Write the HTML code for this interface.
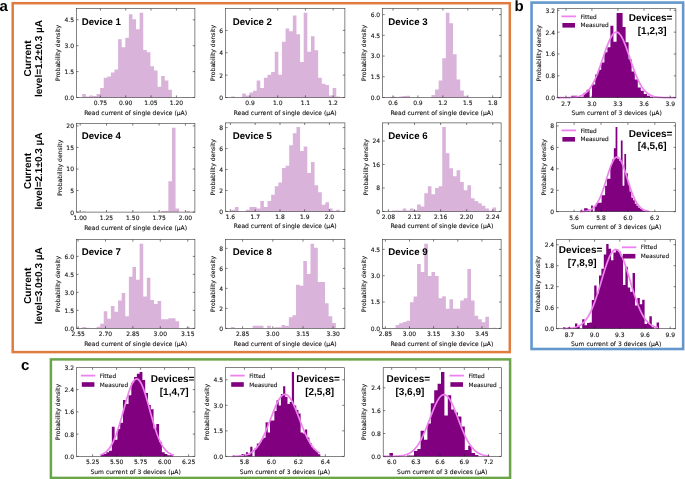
<!DOCTYPE html>
<html lang="en"><head><meta charset="utf-8"><title>Device current histograms</title>
<style>
html,body{margin:0;padding:0;background:#fff;}
body{width:685px;height:479px;overflow:hidden;}
svg{display:block;}
text.t,text.l{stroke:#111;stroke-width:0.1px;}
.t{font-family:"DejaVu Sans","Liberation Sans",sans-serif;font-size:6.0px;fill:#111;}
.l{font-family:"DejaVu Sans","Liberation Sans",sans-serif;font-size:6.05px;fill:#111;}
.b{font-family:"Liberation Sans",Arial,sans-serif;font-weight:bold;font-size:10px;fill:#000;}
.p{font-family:"Liberation Sans",Arial,sans-serif;font-weight:bold;font-size:15px;fill:#000;}
</style></head><body>
<svg width="685" height="479" viewBox="0 0 685 479" text-rendering="geometricPrecision">
<rect x="0" y="0" width="685" height="479" fill="#fff"/>
<rect x="12.7" y="3.2" width="497.1" height="348.9" fill="none" stroke="#e07c3d" stroke-width="2.5"/>
<rect x="531.55" y="2.6" width="151.6" height="346.4" fill="none" stroke="#6498cd" stroke-width="2.6"/>
<rect x="50.9" y="359.4" width="459.2" height="118.5" fill="none" stroke="#6ba54a" stroke-width="2.5"/>
<text x="-0.4" y="10.9" class="p">a</text>
<text x="514.4" y="10.8" class="p">b</text>
<text x="21.0" y="369.7" class="p">c</text>
<text transform="translate(31 58.5) rotate(-90)" class="b" text-anchor="middle">Current</text>
<text transform="translate(42.2 58.5) rotate(-90)" class="b" text-anchor="middle">level=1.2±0.3 µA</text>
<path d="M82.19 97.5v-3.62h3.59v3.62zM85.78 97.5v-1h3.59v1zM89.37 97.5v-2.01h3.59v2.01zM92.96 97.5v-1.41h3.59v1.41zM96.55 97.5v-3.62h3.59v3.62zM100.14 97.5v-9.44h3.59v9.44zM103.73 97.5v-19.68h3.59v19.68zM107.32 97.5v-21.09h3.59v21.09zM110.91 97.5v-25.11h3.59v25.11zM114.5 97.5v-28.12h3.59v28.12zM118.1 97.5v-58.25h3.59v58.25zM121.69 97.5v-50.21h3.59v50.21zM125.28 97.5v-59.65h3.59v59.65zM128.87 97.5v-83.36h3.59v83.36zM132.46 97.5v-78.33h3.59v78.33zM136.05 97.5v-68.29h3.59v68.29zM139.64 97.5v-84.76h3.59v84.76zM143.23 97.5v-47.6h3.59v47.6zM146.82 97.5v-45.19h3.59v45.19zM150.41 97.5v-31.13h3.59v31.13zM154 97.5v-27.12h3.59v27.12zM157.6 97.5v-10.65h3.59v10.65zM161.19 97.5v-21.49h3.59v21.49zM164.78 97.5v-17.07h3.59v17.07zM168.37 97.5v-7.63h3.59v7.63zM182.73 97.5v-0.6h3.59v0.6zM186.32 97.5v-0.6h3.59v0.6z" fill="#d9b3d9"/>
<path d="M100.4 97.5v-2.1M100.4 8.5v2.1M125.7 97.5v-2.1M125.7 8.5v2.1M151 97.5v-2.1M151 8.5v2.1M176.4 97.5v-2.1M176.4 8.5v2.1M76.4 97.5h2.1M194.9 97.5h-2.1M76.4 71.6h2.1M194.9 71.6h-2.1M76.4 45.7h2.1M194.9 45.7h-2.1M76.4 19.8h2.1M194.9 19.8h-2.1" stroke="#111" stroke-width="0.55" fill="none"/>
<rect x="76.4" y="8.5" width="118.5" height="89" fill="none" stroke="#333" stroke-width="0.6"/>
<text x="100.4" y="105.45" class="t" text-anchor="middle">0.75</text>
<text x="125.7" y="105.45" class="t" text-anchor="middle">0.90</text>
<text x="151" y="105.45" class="t" text-anchor="middle">1.05</text>
<text x="176.4" y="105.45" class="t" text-anchor="middle">1.20</text>
<text x="74" y="99.9" class="t" text-anchor="end">0.0</text>
<text x="74" y="74" class="t" text-anchor="end">1.5</text>
<text x="74" y="48.1" class="t" text-anchor="end">3.0</text>
<text x="74" y="22.2" class="t" text-anchor="end">4.5</text>
<text x="135.65" y="114.6" class="l" text-anchor="middle">Read current of single device (µA)</text>
<text transform="translate(59.5 53) rotate(-90)" class="l" text-anchor="middle">Probability density</text>
<text x="81.7" y="25" class="b" style="font-size:9.7px">Device 1</text>
<path d="M231.33 97.5v-1h3.62v1zM242.18 97.5v-4.02h3.62v4.02zM245.8 97.5v-2.01h3.62v2.01zM249.42 97.5v-5.02h3.62v5.02zM253.04 97.5v-6.63h3.62v6.63zM256.65 97.5v-17.07h3.62v17.07zM260.27 97.5v-9.44h3.62v9.44zM263.89 97.5v-19.68h3.62v19.68zM267.51 97.5v-22.7h3.62v22.7zM271.13 97.5v-25.51h3.62v25.51zM274.75 97.5v-45.8h3.62v45.8zM278.36 97.5v-22.7h3.62v22.7zM281.98 97.5v-55.84h3.62v55.84zM285.6 97.5v-68.89h3.62v68.89zM289.22 97.5v-66.28h3.62v66.28zM292.84 97.5v-81.95h3.62v81.95zM296.45 97.5v-63.27h3.62v63.27zM300.07 97.5v-35.55h3.62v35.55zM303.69 97.5v-84.76h3.62v84.76zM307.31 97.5v-45.8h3.62v45.8zM310.93 97.5v-61.26h3.62v61.26zM314.55 97.5v-47.2h3.62v47.2zM318.16 97.5v-19.68h3.62v19.68zM321.78 97.5v-13.66h3.62v13.66zM325.4 97.5v-12.45h3.62v12.45zM329.02 97.5v-2.01h3.62v2.01zM332.64 97.5v-9.44h3.62v9.44zM336.25 97.5v-1h3.62v1z" fill="#d9b3d9"/>
<path d="M250 97.5v-2.1M250 8.5v2.1M277.7 97.5v-2.1M277.7 8.5v2.1M305.4 97.5v-2.1M305.4 8.5v2.1M333.1 97.5v-2.1M333.1 8.5v2.1M225.5 97.5h2.1M344.9 97.5h-2.1M225.5 75.13h2.1M344.9 75.13h-2.1M225.5 52.76h2.1M344.9 52.76h-2.1M225.5 30.39h2.1M344.9 30.39h-2.1" stroke="#111" stroke-width="0.55" fill="none"/>
<rect x="225.5" y="8.5" width="119.4" height="89" fill="none" stroke="#333" stroke-width="0.6"/>
<text x="250" y="105.45" class="t" text-anchor="middle">0.9</text>
<text x="277.7" y="105.45" class="t" text-anchor="middle">1.0</text>
<text x="305.4" y="105.45" class="t" text-anchor="middle">1.1</text>
<text x="333.1" y="105.45" class="t" text-anchor="middle">1.2</text>
<text x="223.1" y="99.9" class="t" text-anchor="end">0</text>
<text x="223.1" y="77.53" class="t" text-anchor="end">2</text>
<text x="223.1" y="55.16" class="t" text-anchor="end">4</text>
<text x="223.1" y="32.79" class="t" text-anchor="end">6</text>
<text x="285.2" y="114.6" class="l" text-anchor="middle">Read current of single device (µA)</text>
<text transform="translate(215.1 53) rotate(-90)" class="l" text-anchor="middle">Probability density</text>
<text x="232.7" y="25" class="b" style="font-size:9.7px">Device 2</text>
<path d="M388.39 97.5v-0.6h3.59v0.6zM391.98 97.5v-1h3.59v1zM395.57 97.5v-0.6h3.59v0.6zM399.16 97.5v-1h3.59v1zM402.75 97.5v-1.41h3.59v1.41zM406.34 97.5v-1.81h3.59v1.81zM431.48 97.5v-2.61h3.59v2.61zM435.07 97.5v-8.03h3.59v8.03zM438.66 97.5v-17.07h3.59v17.07zM442.25 97.5v-39.17h3.59v39.17zM445.84 97.5v-84.76h3.59v84.76zM449.43 97.5v-74.32h3.59v74.32zM453.02 97.5v-43.18h3.59v43.18zM456.61 97.5v-18.08h3.59v18.08zM460.2 97.5v-7.03h3.59v7.03zM463.8 97.5v-1.81h3.59v1.81zM492.52 97.5v-0.4h3.59v0.4z" fill="#d9b3d9"/>
<path d="M393 97.5v-2.1M393 8.5v2.1M417.9 97.5v-2.1M417.9 8.5v2.1M442.9 97.5v-2.1M442.9 8.5v2.1M467.8 97.5v-2.1M467.8 8.5v2.1M492.7 97.5v-2.1M492.7 8.5v2.1M382.6 97.5h2.1M501.1 97.5h-2.1M382.6 76.78h2.1M501.1 76.78h-2.1M382.6 56.06h2.1M501.1 56.06h-2.1M382.6 35.34h2.1M501.1 35.34h-2.1M382.6 14.62h2.1M501.1 14.62h-2.1" stroke="#111" stroke-width="0.55" fill="none"/>
<rect x="382.6" y="8.5" width="118.5" height="89" fill="none" stroke="#333" stroke-width="0.6"/>
<text x="393" y="105.45" class="t" text-anchor="middle">0.6</text>
<text x="417.9" y="105.45" class="t" text-anchor="middle">0.9</text>
<text x="442.9" y="105.45" class="t" text-anchor="middle">1.2</text>
<text x="467.8" y="105.45" class="t" text-anchor="middle">1.5</text>
<text x="492.7" y="105.45" class="t" text-anchor="middle">1.8</text>
<text x="380.2" y="99.9" class="t" text-anchor="end">0.0</text>
<text x="380.2" y="79.18" class="t" text-anchor="end">1.5</text>
<text x="380.2" y="58.46" class="t" text-anchor="end">3.0</text>
<text x="380.2" y="37.74" class="t" text-anchor="end">4.5</text>
<text x="380.2" y="17.02" class="t" text-anchor="end">6.0</text>
<text x="441.85" y="114.6" class="l" text-anchor="middle">Read current of single device (µA)</text>
<text transform="translate(365.7 53) rotate(-90)" class="l" text-anchor="middle">Probability density</text>
<text x="388.3" y="25" class="b" style="font-size:9.7px">Device 3</text>
<text transform="translate(31 171) rotate(-90)" class="b" text-anchor="middle">Current</text>
<text transform="translate(42.2 171) rotate(-90)" class="b" text-anchor="middle">level=2.1±0.3 µA</text>
<path d="M82.19 212.1v-0.6h3.59v0.6zM161.19 212.1v-1h3.59v1zM164.78 212.1v-1h3.59v1zM168.37 212.1v-30.74h3.59v30.74zM171.96 212.1v-84.38h3.59v84.38zM175.55 212.1v-3.62h3.59v3.62zM186.32 212.1v-1h3.59v1z" fill="#d9b3d9"/>
<path d="M80.2 212.1v-2.1M80.2 123.5v2.1M106.5 212.1v-2.1M106.5 123.5v2.1M132.8 212.1v-2.1M132.8 123.5v2.1M159.1 212.1v-2.1M159.1 123.5v2.1M185.4 212.1v-2.1M185.4 123.5v2.1M76.4 212.1h2.1M194.9 212.1h-2.1M76.4 190.55h2.1M194.9 190.55h-2.1M76.4 169h2.1M194.9 169h-2.1M76.4 147.45h2.1M194.9 147.45h-2.1M76.4 125.9h2.1M194.9 125.9h-2.1" stroke="#111" stroke-width="0.55" fill="none"/>
<rect x="76.4" y="123.5" width="118.5" height="88.6" fill="none" stroke="#333" stroke-width="0.6"/>
<text x="80.2" y="220.05" class="t" text-anchor="middle">1.00</text>
<text x="106.5" y="220.05" class="t" text-anchor="middle">1.25</text>
<text x="132.8" y="220.05" class="t" text-anchor="middle">1.50</text>
<text x="159.1" y="220.05" class="t" text-anchor="middle">1.75</text>
<text x="185.4" y="220.05" class="t" text-anchor="middle">2.00</text>
<text x="74" y="214.5" class="t" text-anchor="end">0</text>
<text x="74" y="192.95" class="t" text-anchor="end">5</text>
<text x="74" y="171.4" class="t" text-anchor="end">10</text>
<text x="74" y="149.85" class="t" text-anchor="end">15</text>
<text x="74" y="128.3" class="t" text-anchor="end">20</text>
<text x="135.65" y="229.6" class="l" text-anchor="middle">Read current of single device (µA)</text>
<text transform="translate(62 167.8) rotate(-90)" class="l" text-anchor="middle">Probability density</text>
<text x="81.7" y="139.4" class="b" style="font-size:9.7px">Device 4</text>
<path d="M231.33 211.4v-1.61h3.62v1.61zM234.95 211.4v-4.44h3.62v4.44zM245.8 211.4v-1.61h3.62v1.61zM249.42 211.4v-4.44h3.62v4.44zM253.04 211.4v-4.44h3.62v4.44zM256.65 211.4v-3.02h3.62v3.02zM260.27 211.4v-10.49h3.62v10.49zM263.89 211.4v-4.44h3.62v4.44zM267.51 211.4v-10.49h3.62v10.49zM271.13 211.4v-16.53h3.62v16.53zM274.75 211.4v-25.21h3.62v25.21zM278.36 211.4v-28.83h3.62v28.83zM281.98 211.4v-43.35h3.62v43.35zM285.6 211.4v-45.77h3.62v45.77zM289.22 211.4v-66.14h3.62v66.14zM292.84 211.4v-78.24h3.62v78.24zM296.45 211.4v-84.29h3.62v84.29zM300.07 211.4v-60.49h3.62v60.49zM303.69 211.4v-64.93h3.62v64.93zM307.31 211.4v-38.31h3.62v38.31zM310.93 211.4v-49.4h3.62v49.4zM314.55 211.4v-26.21h3.62v26.21zM318.16 211.4v-19.16h3.62v19.16zM321.78 211.4v-6.65h3.62v6.65zM325.4 211.4v-9.07h3.62v9.07zM329.02 211.4v-3.02h3.62v3.02zM332.64 211.4v-0.6h3.62v0.6zM336.25 211.4v-1.61h3.62v1.61z" fill="#d9b3d9"/>
<path d="M230.4 211.4v-2.1M230.4 122.9v2.1M255.2 211.4v-2.1M255.2 122.9v2.1M280 211.4v-2.1M280 122.9v2.1M304.7 211.4v-2.1M304.7 122.9v2.1M329.4 211.4v-2.1M329.4 122.9v2.1M225.5 211.4h2.1M344.9 211.4h-2.1M225.5 190.45h2.1M344.9 190.45h-2.1M225.5 169.5h2.1M344.9 169.5h-2.1M225.5 148.55h2.1M344.9 148.55h-2.1M225.5 127.6h2.1M344.9 127.6h-2.1" stroke="#111" stroke-width="0.55" fill="none"/>
<rect x="225.5" y="122.9" width="119.4" height="88.5" fill="none" stroke="#333" stroke-width="0.6"/>
<text x="230.4" y="219.35" class="t" text-anchor="middle">1.6</text>
<text x="255.2" y="219.35" class="t" text-anchor="middle">1.7</text>
<text x="280" y="219.35" class="t" text-anchor="middle">1.8</text>
<text x="304.7" y="219.35" class="t" text-anchor="middle">1.9</text>
<text x="329.4" y="219.35" class="t" text-anchor="middle">2.0</text>
<text x="223.1" y="213.8" class="t" text-anchor="end">0</text>
<text x="223.1" y="192.85" class="t" text-anchor="end">2</text>
<text x="223.1" y="171.9" class="t" text-anchor="end">4</text>
<text x="223.1" y="150.95" class="t" text-anchor="end">6</text>
<text x="223.1" y="130" class="t" text-anchor="end">8</text>
<text x="285.2" y="228.3" class="l" text-anchor="middle">Read current of single device (µA)</text>
<text transform="translate(215.1 167.15) rotate(-90)" class="l" text-anchor="middle">Probability density</text>
<text x="232.7" y="139.4" class="b" style="font-size:9.7px">Device 5</text>
<path d="M391.98 211.4v-1h3.59v1zM395.57 211.4v-1h3.59v1zM399.16 211.4v-1h3.59v1zM402.75 211.4v-3.01h3.59v3.01zM406.34 211.4v-1h3.59v1zM409.93 211.4v-3.01h3.59v3.01zM413.52 211.4v-1.4h3.59v1.4zM417.11 211.4v-7.02h3.59v7.02zM420.7 211.4v-5.02h3.59v5.02zM424.3 211.4v-18.06h3.59v18.06zM427.89 211.4v-25.09h3.59v25.09zM431.48 211.4v-17.06h3.59v17.06zM435.07 211.4v-23.48h3.59v23.48zM438.66 211.4v-25.09h3.59v25.09zM442.25 211.4v-84.29h3.59v84.29zM445.84 211.4v-58.2h3.59v58.2zM449.43 211.4v-43.15h3.59v43.15zM453.02 211.4v-35.12h3.59v35.12zM456.61 211.4v-41.14h3.59v41.14zM460.2 211.4v-29.5h3.59v29.5zM463.8 211.4v-21.07h3.59v21.07zM467.39 211.4v-26.09h3.59v26.09zM470.98 211.4v-13.04h3.59v13.04zM474.57 211.4v-10.44h3.59v10.44zM478.16 211.4v-8.03h3.59v8.03zM481.75 211.4v-5.62h3.59v5.62zM485.34 211.4v-3.01h3.59v3.01zM488.93 211.4v-1h3.59v1zM492.52 211.4v-4.01h3.59v4.01z" fill="#d9b3d9"/>
<path d="M388.4 211.4v-2.1M388.4 122.9v2.1M414.5 211.4v-2.1M414.5 122.9v2.1M440.6 211.4v-2.1M440.6 122.9v2.1M466.7 211.4v-2.1M466.7 122.9v2.1M492.8 211.4v-2.1M492.8 122.9v2.1M382.6 211.4h2.1M501.1 211.4h-2.1M382.6 187.93h2.1M501.1 187.93h-2.1M382.6 164.46h2.1M501.1 164.46h-2.1M382.6 140.99h2.1M501.1 140.99h-2.1" stroke="#111" stroke-width="0.55" fill="none"/>
<rect x="382.6" y="122.9" width="118.5" height="88.5" fill="none" stroke="#333" stroke-width="0.6"/>
<text x="388.4" y="219.35" class="t" text-anchor="middle">2.08</text>
<text x="414.5" y="219.35" class="t" text-anchor="middle">2.12</text>
<text x="440.6" y="219.35" class="t" text-anchor="middle">2.16</text>
<text x="466.7" y="219.35" class="t" text-anchor="middle">2.20</text>
<text x="492.8" y="219.35" class="t" text-anchor="middle">2.24</text>
<text x="380.2" y="213.8" class="t" text-anchor="end">0</text>
<text x="380.2" y="190.33" class="t" text-anchor="end">8</text>
<text x="380.2" y="166.86" class="t" text-anchor="end">16</text>
<text x="380.2" y="143.39" class="t" text-anchor="end">24</text>
<text x="441.85" y="228.3" class="l" text-anchor="middle">Read current of single device (µA)</text>
<text transform="translate(368.2 167.15) rotate(-90)" class="l" text-anchor="middle">Probability density</text>
<text x="388.3" y="139.4" class="b" style="font-size:9.7px">Device 6</text>
<text transform="translate(31 285.8) rotate(-90)" class="b" text-anchor="middle">Current</text>
<text transform="translate(42.2 285.8) rotate(-90)" class="b" text-anchor="middle">level=3.0±0.3 µA</text>
<path d="M82.19 328.35v-1.42h3.59v1.42zM85.78 328.35v-0.61h3.59v0.61zM96.55 328.35v-1.62h3.59v1.62zM100.14 328.35v-4.65h3.59v4.65zM103.73 328.35v-17.19h3.59v17.19zM107.32 328.35v-9.71h3.59v9.71zM110.91 328.35v-22.24h3.59v22.24zM114.5 328.35v-16.58h3.59v16.58zM118.1 328.35v-27.9h3.59v27.9zM121.69 328.35v-35.39h3.59v35.39zM125.28 328.35v-12.13h3.59v12.13zM128.87 328.35v-51.56h3.59v51.56zM132.46 328.35v-61.27h3.59v61.27zM136.05 328.35v-48.53h3.59v48.53zM139.64 328.35v-84.52h3.59v84.52zM143.23 328.35v-31.95h3.59v31.95zM146.82 328.35v-50.55h3.59v50.55zM150.41 328.35v-28.31h3.59v28.31zM154 328.35v-24.27h3.59v24.27zM157.6 328.35v-27.3h3.59v27.3zM161.19 328.35v-9.1h3.59v9.1zM164.78 328.35v-9.1h3.59v9.1zM168.37 328.35v-10.11h3.59v10.11zM171.96 328.35v-10.11h3.59v10.11zM175.55 328.35v-7.08h3.59v7.08zM179.14 328.35v-0.4h3.59v0.4zM186.32 328.35v-1.01h3.59v1.01z" fill="#d9b3d9"/>
<path d="M78.1 328.35v-2.1M78.1 239.6v2.1M105.5 328.35v-2.1M105.5 239.6v2.1M132.9 328.35v-2.1M132.9 239.6v2.1M160.3 328.35v-2.1M160.3 239.6v2.1M187.8 328.35v-2.1M187.8 239.6v2.1M76.4 328.35h2.1M194.9 328.35h-2.1M76.4 310.36h2.1M194.9 310.36h-2.1M76.4 292.37h2.1M194.9 292.37h-2.1M76.4 274.38h2.1M194.9 274.38h-2.1M76.4 256.39h2.1M194.9 256.39h-2.1" stroke="#111" stroke-width="0.55" fill="none"/>
<rect x="76.4" y="239.6" width="118.5" height="88.75" fill="none" stroke="#333" stroke-width="0.6"/>
<text x="78.1" y="336.3" class="t" text-anchor="middle">2.55</text>
<text x="105.5" y="336.3" class="t" text-anchor="middle">2.70</text>
<text x="132.9" y="336.3" class="t" text-anchor="middle">2.85</text>
<text x="160.3" y="336.3" class="t" text-anchor="middle">3.00</text>
<text x="187.8" y="336.3" class="t" text-anchor="middle">3.15</text>
<text x="74" y="330.75" class="t" text-anchor="end">0.0</text>
<text x="74" y="312.76" class="t" text-anchor="end">1.5</text>
<text x="74" y="294.77" class="t" text-anchor="end">3.0</text>
<text x="74" y="276.78" class="t" text-anchor="end">4.5</text>
<text x="74" y="258.79" class="t" text-anchor="end">6.0</text>
<text x="135.65" y="346.25" class="l" text-anchor="middle">Read current of single device (µA)</text>
<text transform="translate(59.5 283.98) rotate(-90)" class="l" text-anchor="middle">Probability density</text>
<text x="81.7" y="255.4" class="b" style="font-size:9.7px">Device 7</text>
<path d="M230.93 328.35v-1.41h3.62v1.41zM252.64 328.35v-2.62h3.62v2.62zM256.25 328.35v-2.62h3.62v2.62zM259.87 328.35v-2.62h3.62v2.62zM267.11 328.35v-2.62h3.62v2.62zM274.35 328.35v-1.01h3.62v1.01zM277.96 328.35v-1.01h3.62v1.01zM281.58 328.35v-3.42h3.62v3.42zM285.2 328.35v-2.41h3.62v2.41zM288.82 328.35v-11.07h3.62v11.07zM292.44 328.35v-13.08h3.62v13.08zM296.05 328.35v-43.67h3.62v43.67zM299.67 328.35v-42.66h3.62v42.66zM303.29 328.35v-67.42h3.62v67.42zM306.91 328.35v-54.34h3.62v54.34zM310.53 328.35v-84.52h3.62v84.52zM314.15 328.35v-80.5h3.62v80.5zM317.76 328.35v-46.29h3.62v46.29zM321.38 328.35v-46.29h3.62v46.29zM325 328.35v-25.16h3.62v25.16zM328.62 328.35v-12.07h3.62v12.07zM332.24 328.35v-5.43h3.62v5.43zM335.85 328.35v-0.4h3.62v0.4z" fill="#d9b3d9"/>
<path d="M242.6 328.35v-2.1M242.6 239.6v2.1M272.8 328.35v-2.1M272.8 239.6v2.1M303 328.35v-2.1M303 239.6v2.1M333.1 328.35v-2.1M333.1 239.6v2.1M225.5 328.35h2.1M344.9 328.35h-2.1M225.5 308.36h2.1M344.9 308.36h-2.1M225.5 288.37h2.1M344.9 288.37h-2.1M225.5 268.38h2.1M344.9 268.38h-2.1M225.5 248.39h2.1M344.9 248.39h-2.1" stroke="#111" stroke-width="0.55" fill="none"/>
<rect x="225.5" y="239.6" width="119.4" height="88.75" fill="none" stroke="#333" stroke-width="0.6"/>
<text x="242.6" y="336.3" class="t" text-anchor="middle">2.85</text>
<text x="272.8" y="336.3" class="t" text-anchor="middle">3.00</text>
<text x="303" y="336.3" class="t" text-anchor="middle">3.15</text>
<text x="333.1" y="336.3" class="t" text-anchor="middle">3.30</text>
<text x="223.1" y="330.75" class="t" text-anchor="end">0</text>
<text x="223.1" y="310.76" class="t" text-anchor="end">2</text>
<text x="223.1" y="290.77" class="t" text-anchor="end">4</text>
<text x="223.1" y="270.78" class="t" text-anchor="end">6</text>
<text x="223.1" y="250.79" class="t" text-anchor="end">8</text>
<text x="285.2" y="346.25" class="l" text-anchor="middle">Read current of single device (µA)</text>
<text transform="translate(215.1 283.98) rotate(-90)" class="l" text-anchor="middle">Probability density</text>
<text x="232.7" y="255.4" class="b" style="font-size:9.7px">Device 8</text>
<path d="M388.39 328.35v-0.4h3.59v0.4zM391.98 328.35v-0.4h3.59v0.4zM395.57 328.35v-3.42h3.59v3.42zM399.16 328.35v-5.03h3.59v5.03zM402.75 328.35v-6.44h3.59v6.44zM406.34 328.35v-7.65h3.59v7.65zM409.93 328.35v-26.16h3.59v26.16zM413.52 328.35v-31.8h3.59v31.8zM417.11 328.35v-64.4h3.59v64.4zM420.7 328.35v-56.35h3.59v56.35zM424.3 328.35v-84.52h3.59v84.52zM427.89 328.35v-52.32h3.59v52.32zM431.48 328.35v-56.35h3.59v56.35zM435.07 328.35v-52.32h3.59v52.32zM438.66 328.35v-30.19h3.59v30.19zM442.25 328.35v-32.2h3.59v32.2zM445.84 328.35v-19.72h3.59v19.72zM449.43 328.35v-28.98h3.59v28.98zM453.02 328.35v-19.72h3.59v19.72zM456.61 328.35v-19.72h3.59v19.72zM460.2 328.35v-27.77h3.59v27.77zM463.8 328.35v-30.19h3.59v30.19zM467.39 328.35v-59.37h3.59v59.37zM470.98 328.35v-27.77h3.59v27.77zM474.57 328.35v-12.68h3.59v12.68zM478.16 328.35v-9.06h3.59v9.06zM481.75 328.35v-6.04h3.59v6.04zM485.34 328.35v-11.67h3.59v11.67zM492.52 328.35v-0.6h3.59v0.6z" fill="#d9b3d9"/>
<path d="M385.4 328.35v-2.1M385.4 239.6v2.1M409.5 328.35v-2.1M409.5 239.6v2.1M433.6 328.35v-2.1M433.6 239.6v2.1M457.8 328.35v-2.1M457.8 239.6v2.1M481.9 328.35v-2.1M481.9 239.6v2.1M382.6 328.35h2.1M501.1 328.35h-2.1M382.6 302.03h2.1M501.1 302.03h-2.1M382.6 275.71h2.1M501.1 275.71h-2.1M382.6 249.39h2.1M501.1 249.39h-2.1" stroke="#111" stroke-width="0.55" fill="none"/>
<rect x="382.6" y="239.6" width="118.5" height="88.75" fill="none" stroke="#333" stroke-width="0.6"/>
<text x="385.4" y="336.3" class="t" text-anchor="middle">2.85</text>
<text x="409.5" y="336.3" class="t" text-anchor="middle">3.00</text>
<text x="433.6" y="336.3" class="t" text-anchor="middle">3.15</text>
<text x="457.8" y="336.3" class="t" text-anchor="middle">3.30</text>
<text x="481.9" y="336.3" class="t" text-anchor="middle">3.45</text>
<text x="380.2" y="330.75" class="t" text-anchor="end">0.0</text>
<text x="380.2" y="304.43" class="t" text-anchor="end">1.5</text>
<text x="380.2" y="278.11" class="t" text-anchor="end">3.0</text>
<text x="380.2" y="251.79" class="t" text-anchor="end">4.5</text>
<text x="441.85" y="346.25" class="l" text-anchor="middle">Read current of single device (µA)</text>
<text transform="translate(365.7 283.98) rotate(-90)" class="l" text-anchor="middle">Probability density</text>
<text x="388.3" y="255.4" class="b" style="font-size:9.7px">Device 9</text>
<path d="M556.6 97.7v-0.61H559.6V97.7zM571.2 97.7v-2.02H577.6V97.7zM577.6 97.7v-1.01H583.6V97.7zM583.6 97.7v-5.05H586.6V97.7zM586.6 97.7v-8.07H589.6V97.7zM592 97.7v-13.12H595.2V97.7zM595.2 97.7v-23.21H598.2V97.7zM598.2 97.7v-27.85H601.2V97.7zM601.2 97.7v-35.32H604.4V97.7zM604.4 97.7v-45.41H607.4V97.7zM607.4 97.7v-50.45H610.4V97.7zM610.4 97.7v-72.05H613.4V97.7zM613.4 97.7v-55.9H616.6V97.7zM616.6 97.7v-84.76H622.6V97.7zM622.6 97.7v-70.63H625.6V97.7zM625.6 97.7v-55.5H628.6V97.7zM628.6 97.7v-38.34H631.6V97.7zM631.6 97.7v-26.24H634.8V97.7zM634.8 97.7v-18.16H637.8V97.7zM637.8 97.7v-10.09H640.8V97.7zM640.8 97.7v-7.06H643.8V97.7zM643.8 97.7v-3.63H647V97.7zM647 97.7v-2.02H650V97.7zM650 97.7v-1.01H653V97.7z" fill="#800080"/>
<path d="M557.4 97.7 L558.4 97.69 L559.4 97.69 L560.4 97.69 L561.4 97.69 L562.4 97.68 L563.4 97.67 L564.4 97.66 L565.4 97.65 L566.4 97.64 L567.4 97.62 L568.4 97.59 L569.4 97.56 L570.4 97.52 L571.4 97.47 L572.4 97.4 L573.4 97.32 L574.4 97.22 L575.4 97.09 L576.4 96.94 L577.4 96.75 L578.4 96.52 L579.4 96.25 L580.4 95.92 L581.4 95.54 L582.4 95.08 L583.4 94.54 L584.4 93.91 L585.4 93.18 L586.4 92.35 L587.4 91.39 L588.4 90.31 L589.4 89.09 L590.4 87.72 L591.4 86.19 L592.4 84.51 L593.4 82.67 L594.4 80.66 L595.4 78.49 L596.4 76.17 L597.4 73.7 L598.4 71.09 L599.4 68.37 L600.4 65.55 L601.4 62.65 L602.4 59.7 L603.4 56.73 L604.4 53.78 L605.4 50.87 L606.4 48.05 L607.4 45.35 L608.4 42.82 L609.4 40.48 L610.4 38.37 L611.4 36.52 L612.4 34.97 L613.4 33.73 L614.4 32.84 L615.4 32.29 L616.4 32.11 L617.4 32.29 L618.4 32.84 L619.4 33.73 L620.4 34.97 L621.4 36.52 L622.4 38.37 L623.4 40.48 L624.4 42.82 L625.4 45.35 L626.4 48.05 L627.4 50.87 L628.4 53.78 L629.4 56.73 L630.4 59.7 L631.4 62.65 L632.4 65.55 L633.4 68.37 L634.4 71.09 L635.4 73.7 L636.4 76.17 L637.4 78.49 L638.4 80.66 L639.4 82.67 L640.4 84.51 L641.4 86.19 L642.4 87.72 L643.4 89.09 L644.4 90.31 L645.4 91.39 L646.4 92.35 L647.4 93.18 L648.4 93.91 L649.4 94.54 L650.4 95.08 L651.4 95.54 L652.4 95.92 L653.4 96.25 L654.4 96.52 L655.4 96.75 L656.4 96.94 L657.4 97.09 L658.4 97.22 L659.4 97.32 L660.4 97.4 L661.4 97.47 L662.4 97.52 L663.4 97.56 L664.4 97.59 L665.4 97.62 L666.4 97.64 L667.4 97.65 L668.4 97.66 L669.4 97.67 L670.4 97.68 L671.4 97.69 L672.4 97.69 L673.4 97.69 L674.4 97.69 L675.4 97.7" fill="none" stroke="#ee82ee" stroke-width="1.7" stroke-linejoin="round"/>
<path d="M566 97.7v-2.1M566 8.7v2.1M591.9 97.7v-2.1M591.9 8.7v2.1M617.9 97.7v-2.1M617.9 8.7v2.1M644 97.7v-2.1M644 8.7v2.1M670.2 97.7v-2.1M670.2 8.7v2.1M557.4 97.7h2.1M675.9 97.7h-2.1M557.4 75.85h2.1M675.9 75.85h-2.1M557.4 54h2.1M675.9 54h-2.1M557.4 32.15h2.1M675.9 32.15h-2.1M557.4 10.3h2.1M675.9 10.3h-2.1" stroke="#111" stroke-width="0.55" fill="none"/>
<rect x="557.4" y="8.7" width="118.5" height="89" fill="none" stroke="#333" stroke-width="0.6"/>
<text x="566" y="105.65" class="t" text-anchor="middle">2.7</text>
<text x="591.9" y="105.65" class="t" text-anchor="middle">3.0</text>
<text x="617.9" y="105.65" class="t" text-anchor="middle">3.3</text>
<text x="644" y="105.65" class="t" text-anchor="middle">3.6</text>
<text x="670.2" y="105.65" class="t" text-anchor="middle">3.9</text>
<text x="555" y="100.1" class="t" text-anchor="end">0.0</text>
<text x="555" y="78.25" class="t" text-anchor="end">0.8</text>
<text x="555" y="56.4" class="t" text-anchor="end">1.6</text>
<text x="555" y="34.55" class="t" text-anchor="end">2.4</text>
<text x="555" y="12.7" class="t" text-anchor="end">3.2</text>
<text x="616.65" y="114.8" class="l" text-anchor="middle">Sum current of 3 devices (µA)</text>
<text transform="translate(540.5 53.2) rotate(-90)" class="l" text-anchor="middle">Probability density</text>
<path d="M562.4 16.4h12.6" stroke="#ee82ee" stroke-width="1.8" stroke-linecap="square"/>
<text x="580.4" y="18.5" class="t" style="font-size:5.8px">Fitted</text>
<rect x="562.4" y="23" width="12.6" height="4.6" fill="#800080"/>
<text x="580.4" y="27.3" class="t" style="font-size:5.8px">Measured</text>
<text x="650.6" y="21.3" class="b" style="font-size:10px" text-anchor="middle">Devices=</text>
<text x="652.2" y="33.7" class="b" style="font-size:10px" text-anchor="middle">[1,2,3]</text>
<path d="M580.6 211.7v-1.91H582.35V211.7zM584.1 211.7v-3.41H585.85V211.7zM585.85 211.7v-3.41H587.6V211.7zM587.6 211.7v-2.31H589.35V211.7zM591.1 211.7v-6.23H592.85V211.7zM594.6 211.7v-5.12H596.35V211.7zM596.35 211.7v-9.04H598.1V211.7zM598.1 211.7v-9.04H599.85V211.7zM599.85 211.7v-9.04H601.6V211.7zM601.6 211.7v-16.37H603.35V211.7zM603.35 211.7v-16.37H605.1V211.7zM605.1 211.7v-26.01H606.85V211.7zM606.85 211.7v-32.84H608.6V211.7zM608.6 211.7v-32.84H610.35V211.7zM610.35 211.7v-46.7H612.1V211.7zM612.1 211.7v-52.22H613.85V211.7zM613.85 211.7v-63.57H615.6V211.7zM615.6 211.7v-84.76H617.35V211.7zM617.35 211.7v-52.93H619.1V211.7zM619.1 211.7v-51.02H620.85V211.7zM620.85 211.7v-71.3H622.6V211.7zM622.6 211.7v-25.91H624.35V211.7zM624.35 211.7v-57.75H626.1V211.7zM626.1 211.7v-38.46H627.85V211.7zM627.85 211.7v-27.12H629.6V211.7zM629.6 211.7v-20.09H631.35V211.7zM631.35 211.7v-14.06H633.1V211.7zM633.1 211.7v-11.55H634.85V211.7zM634.85 211.7v-7.93H636.6V211.7zM636.6 211.7v-5.62H638.35V211.7zM638.35 211.7v-3.92H640.1V211.7zM640.1 211.7v-2.61H641.85V211.7zM641.85 211.7v-1.51H643.6V211.7zM643.6 211.7v-0.6H645.35V211.7z" fill="#800080"/>
<path d="M580 211.61 L581 211.58 L582 211.53 L583 211.46 L584 211.38 L585 211.26 L586 211.11 L587 210.91 L588 210.66 L589 210.34 L590 209.94 L591 209.44 L592 208.82 L593 208.08 L594 207.18 L595 206.11 L596 204.85 L597 203.39 L598 201.71 L599 199.81 L600 197.68 L601 195.32 L602 192.75 L603 189.97 L604 187.02 L605 183.93 L606 180.76 L607 177.54 L608 174.34 L609 171.22 L610 168.25 L611 165.51 L612 163.05 L613 160.94 L614 159.24 L615 157.99 L616 157.22 L617 156.97 L618 157.22 L619 157.99 L620 159.24 L621 160.94 L622 163.05 L623 165.51 L624 168.25 L625 171.22 L626 174.34 L627 177.54 L628 180.76 L629 183.93 L630 187.02 L631 189.97 L632 192.75 L633 195.32 L634 197.68 L635 199.81 L636 201.71 L637 203.39 L638 204.85 L639 206.11 L640 207.18 L641 208.08 L642 208.82 L643 209.44 L644 209.94 L645 210.34 L646 210.66 L647 210.91 L648 211.11 L649 211.26" fill="none" stroke="#ee82ee" stroke-width="1.7" stroke-linejoin="round"/>
<path d="M574.1 211.7v-2.1M574.1 122.7v2.1M601 211.7v-2.1M601 122.7v2.1M627.9 211.7v-2.1M627.9 122.7v2.1M654.8 211.7v-2.1M654.8 122.7v2.1M556.6 211.7h2.1M675.7 211.7h-2.1M556.6 190.25h2.1M675.7 190.25h-2.1M556.6 168.8h2.1M675.7 168.8h-2.1M556.6 147.35h2.1M675.7 147.35h-2.1M556.6 125.9h2.1M675.7 125.9h-2.1" stroke="#111" stroke-width="0.55" fill="none"/>
<rect x="556.6" y="122.7" width="119.1" height="89" fill="none" stroke="#333" stroke-width="0.6"/>
<text x="574.1" y="219.65" class="t" text-anchor="middle">5.6</text>
<text x="601" y="219.65" class="t" text-anchor="middle">5.8</text>
<text x="627.9" y="219.65" class="t" text-anchor="middle">6.0</text>
<text x="654.8" y="219.65" class="t" text-anchor="middle">6.2</text>
<text x="554.2" y="214.1" class="t" text-anchor="end">0</text>
<text x="554.2" y="192.65" class="t" text-anchor="end">2</text>
<text x="554.2" y="171.2" class="t" text-anchor="end">4</text>
<text x="554.2" y="149.75" class="t" text-anchor="end">6</text>
<text x="554.2" y="128.3" class="t" text-anchor="end">8</text>
<text x="616.15" y="229.1" class="l" text-anchor="middle">Sum current of 3 devices (µA)</text>
<text transform="translate(546.2 167.2) rotate(-90)" class="l" text-anchor="middle">Probability density</text>
<path d="M562.4 130.4h12.6" stroke="#ee82ee" stroke-width="1.8" stroke-linecap="square"/>
<text x="580.4" y="132.5" class="t" style="font-size:5.8px">Fitted</text>
<rect x="562.4" y="137" width="12.6" height="4.6" fill="#800080"/>
<text x="580.4" y="141.3" class="t" style="font-size:5.8px">Measured</text>
<text x="650.6" y="136.6" class="b" style="font-size:10px" text-anchor="middle">Devices=</text>
<text x="652.2" y="149" class="b" style="font-size:10px" text-anchor="middle">[4,5,6]</text>
<path d="M563 328.7v-1.5H565.4V328.7zM567.8 328.7v-1.5H570.2V328.7zM572.6 328.7v-0.5H575V328.7zM575 328.7v-5.32H577.4V328.7zM577.4 328.7v-2.41H579.8V328.7zM582.2 328.7v-9.43H584.6V328.7zM584.6 328.7v-3.41H587V328.7zM587 328.7v-5.62H589.4V328.7zM589.4 328.7v-6.22H591.8V328.7zM591.8 328.7v-28.59H594.2V328.7zM594.2 328.7v-43.13H596.6V328.7zM596.6 328.7v-35.11H599V328.7zM599 328.7v-53.16H601.4V328.7zM601.4 328.7v-59.89H603.8V328.7zM603.8 328.7v-74.23H606.2V328.7zM606.2 328.7v-84.76H608.6V328.7zM608.6 328.7v-79.95H611V328.7zM611 328.7v-68.51H613.4V328.7zM613.4 328.7v-76.24H615.8V328.7zM615.8 328.7v-79.24H618.2V328.7zM618.2 328.7v-77.24H620.6V328.7zM620.6 328.7v-72.22H623V328.7zM623 328.7v-43.63H625.4V328.7zM625.4 328.7v-61.89H627.8V328.7zM627.8 328.7v-41.13H630.2V328.7zM630.2 328.7v-36.91H632.6V328.7zM632.6 328.7v-55.67H635V328.7zM635 328.7v-23.27H637.4V328.7zM637.4 328.7v-30.59H639.8V328.7zM639.8 328.7v-24.48H642.2V328.7zM642.2 328.7v-28.99H644.6V328.7zM644.6 328.7v-4.61H647V328.7zM647 328.7v-5.72H649.4V328.7zM649.4 328.7v-12.54H651.8V328.7zM651.8 328.7v-1.5H654.2V328.7zM656.6 328.7v-6.22H659V328.7z" fill="#800080"/>
<path d="M563 328.61 L564 328.59 L565 328.56 L566 328.52 L567 328.47 L568 328.4 L569 328.33 L570 328.23 L571 328.11 L572 327.97 L573 327.8 L574 327.59 L575 327.35 L576 327.05 L577 326.7 L578 326.29 L579 325.81 L580 325.25 L581 324.6 L582 323.85 L583 322.99 L584 322.01 L585 320.91 L586 319.66 L587 318.27 L588 316.72 L589 315.01 L590 313.14 L591 311.09 L592 308.86 L593 306.47 L594 303.91 L595 301.19 L596 298.31 L597 295.31 L598 292.18 L599 288.96 L600 285.66 L601 282.32 L602 278.96 L603 275.61 L604 272.32 L605 269.12 L606 266.04 L607 263.13 L608 260.41 L609 257.93 L610 255.71 L611 253.8 L612 252.2 L613 250.96 L614 250.08 L615 249.58 L616 249.46 L617 249.73 L618 250.39 L619 251.41 L620 252.8 L621 254.53 L622 256.56 L623 258.89 L624 261.47 L625 264.27 L626 267.25 L627 270.39 L628 273.63 L629 276.95 L630 280.3 L631 283.66 L632 286.99 L633 290.26 L634 293.44 L635 296.53 L636 299.48 L637 302.29 L638 304.95 L639 307.45 L640 309.77 L641 311.93 L642 313.91 L643 315.72 L644 317.36 L645 318.85 L646 320.18 L647 321.37 L648 322.42 L649 323.35 L650 324.16 L651 324.87 L652 325.48 L653 326.01 L654 326.46 L655 326.85 L656 327.18 L657 327.45 L658 327.68" fill="none" stroke="#ee82ee" stroke-width="1.7" stroke-linejoin="round"/>
<path d="M569.4 328.7v-2.1M569.4 239.7v2.1M594.6 328.7v-2.1M594.6 239.7v2.1M619.8 328.7v-2.1M619.8 239.7v2.1M645 328.7v-2.1M645 239.7v2.1M670.2 328.7v-2.1M670.2 239.7v2.1M556.6 328.7h2.1M675.7 328.7h-2.1M556.6 307.7h2.1M675.7 307.7h-2.1M556.6 286.7h2.1M675.7 286.7h-2.1M556.6 265.7h2.1M675.7 265.7h-2.1M556.6 244.7h2.1M675.7 244.7h-2.1" stroke="#111" stroke-width="0.55" fill="none"/>
<rect x="556.6" y="239.7" width="119.1" height="89" fill="none" stroke="#333" stroke-width="0.6"/>
<text x="569.4" y="336.65" class="t" text-anchor="middle">8.7</text>
<text x="594.6" y="336.65" class="t" text-anchor="middle">9.0</text>
<text x="619.8" y="336.65" class="t" text-anchor="middle">9.3</text>
<text x="645" y="336.65" class="t" text-anchor="middle">9.6</text>
<text x="670.2" y="336.65" class="t" text-anchor="middle">9.9</text>
<text x="554.2" y="331.1" class="t" text-anchor="end">0.0</text>
<text x="554.2" y="310.1" class="t" text-anchor="end">0.6</text>
<text x="554.2" y="289.1" class="t" text-anchor="end">1.2</text>
<text x="554.2" y="268.1" class="t" text-anchor="end">1.8</text>
<text x="554.2" y="247.1" class="t" text-anchor="end">2.4</text>
<text x="616.15" y="345.8" class="l" text-anchor="middle">Sum current of 3 devices (µA)</text>
<text transform="translate(539.7 284.2) rotate(-90)" class="l" text-anchor="middle">Probability density</text>
<path d="M622.8 247.3h12.6" stroke="#ee82ee" stroke-width="1.8" stroke-linecap="square"/>
<text x="640.8" y="249.4" class="t" style="font-size:5.8px">Fitted</text>
<rect x="622.8" y="253.9" width="12.6" height="4.6" fill="#800080"/>
<text x="640.8" y="258.2" class="t" style="font-size:5.8px">Measured</text>
<text x="580.5" y="253.2" class="b" style="font-size:10px" text-anchor="middle">Devices=</text>
<text x="582.1" y="265.6" class="b" style="font-size:10px" text-anchor="middle">[7,8,9]</text>
<path d="M100.72 456.4v-1.81H103.5V456.4zM103.5 456.4v-2.42H106.28V456.4zM106.28 456.4v-4.03H109.06V456.4zM109.06 456.4v-5.75H111.84V456.4zM111.84 456.4v-29.64H114.62V456.4zM114.62 456.4v-16.63H117.4V456.4zM117.4 456.4v-27.42H120.18V456.4zM120.18 456.4v-33.67H122.96V456.4zM122.96 456.4v-56.45H125.74V456.4zM125.74 456.4v-52.42H128.52V456.4zM128.52 456.4v-61.09H131.3V456.4zM131.3 456.4v-73.59H134.08V456.4zM134.08 456.4v-79.34H136.86V456.4zM136.86 456.4v-82.66H139.64V456.4zM139.64 456.4v-84.48H142.42V456.4zM142.42 456.4v-76.51H145.2V456.4zM145.2 456.4v-63.51H147.98V456.4zM147.98 456.4v-51.41H150.76V456.4zM150.76 456.4v-47.08H153.54V456.4zM153.54 456.4v-27.92H156.32V456.4zM156.32 456.4v-32.46H159.1V456.4zM159.1 456.4v-14.31H161.88V456.4zM161.88 456.4v-4.03H164.66V456.4zM164.66 456.4v-2.42H167.44V456.4zM167.44 456.4v-1.21H170.22V456.4zM170.22 456.4v-1.21H173V456.4z" fill="#800080"/>
<path d="M100 455.05 L101 454.72 L102 454.32 L103 453.84 L104 453.28 L105 452.61 L106 451.83 L107 450.93 L108 449.87 L109 448.67 L110 447.3 L111 445.75 L112 444 L113 442.06 L114 439.92 L115 437.57 L116 435.01 L117 432.25 L118 429.29 L119 426.16 L120 422.87 L121 419.44 L122 415.9 L123 412.29 L124 408.65 L125 405.02 L126 401.44 L127 397.97 L128 394.65 L129 391.53 L130 388.66 L131 386.09 L132 383.86 L133 382 L134 380.56 L135 379.55 L136 378.99 L137 378.9 L138 379.27 L139 380.1 L140 381.37 L141 383.07 L142 385.15 L143 387.59 L144 390.35 L145 393.37 L146 396.62 L147 400.04 L148 403.58 L149 407.2 L150 410.84 L151 414.46 L152 418.03 L153 421.51 L154 424.86 L155 428.06 L156 431.09 L157 433.93 L158 436.57 L159 439 L160 441.23 L161 443.25 L162 445.07 L163 446.7 L164 448.14 L165 449.41 L166 450.52 L167 451.49 L168 452.32 L169 453.03 L170 453.63 L171 454.14 L172 454.57 L173 454.92 L174 455.21" fill="none" stroke="#ee82ee" stroke-width="1.7" stroke-linejoin="round"/>
<path d="M92.6 456.4v-2.1M92.6 367.7v2.1M116.6 456.4v-2.1M116.6 367.7v2.1M140.6 456.4v-2.1M140.6 367.7v2.1M164.6 456.4v-2.1M164.6 367.7v2.1M188.6 456.4v-2.1M188.6 367.7v2.1M76.4 456.4h2.1M194.9 456.4h-2.1M76.4 434.13h2.1M194.9 434.13h-2.1M76.4 411.86h2.1M194.9 411.86h-2.1M76.4 389.59h2.1M194.9 389.59h-2.1" stroke="#111" stroke-width="0.55" fill="none"/>
<rect x="76.4" y="367.7" width="118.5" height="88.7" fill="none" stroke="#333" stroke-width="0.6"/>
<text x="92.6" y="464.35" class="t" text-anchor="middle">5.25</text>
<text x="116.6" y="464.35" class="t" text-anchor="middle">5.50</text>
<text x="140.6" y="464.35" class="t" text-anchor="middle">5.75</text>
<text x="164.6" y="464.35" class="t" text-anchor="middle">6.00</text>
<text x="188.6" y="464.35" class="t" text-anchor="middle">6.25</text>
<text x="74" y="458.8" class="t" text-anchor="end">0.0</text>
<text x="74" y="436.53" class="t" text-anchor="end">0.8</text>
<text x="74" y="414.26" class="t" text-anchor="end">1.6</text>
<text x="74" y="391.99" class="t" text-anchor="end">2.4</text>
<text x="74" y="369.72" class="t" text-anchor="end">3.2</text>
<text x="135.65" y="474" class="l" text-anchor="middle">Sum current of 3 devices (µA)</text>
<text transform="translate(59.5 412.05) rotate(-90)" class="l" text-anchor="middle">Probability density</text>
<path d="M81.8 375.6h12.6" stroke="#ee82ee" stroke-width="1.8" stroke-linecap="square"/>
<text x="99.8" y="377.7" class="t" style="font-size:5.8px">Fitted</text>
<rect x="81.8" y="382.2" width="12.6" height="4.6" fill="#800080"/>
<text x="99.8" y="386.5" class="t" style="font-size:5.8px">Measured</text>
<text x="172.6" y="382.2" class="b" style="font-size:10px" text-anchor="middle">Devices=</text>
<text x="174.2" y="394.6" class="b" style="font-size:10px" text-anchor="middle">[1,4,7]</text>
<path d="M232.73 456.4v-0.81H234.92V456.4zM239.3 456.4v-1.21H241.49V456.4zM241.49 456.4v-2.32H243.68V456.4zM243.68 456.4v-1.31H245.87V456.4zM245.87 456.4v-4.03H248.06V456.4zM248.06 456.4v-1.92H250.25V456.4zM250.25 456.4v-9.58H252.44V456.4zM254.63 456.4v-8.27H256.82V456.4zM256.82 456.4v-13H259.01V456.4zM259.01 456.4v-14.11H261.2V456.4zM261.2 456.4v-17.14H263.39V456.4zM263.39 456.4v-18.65H265.58V456.4zM265.58 456.4v-34.07H267.77V456.4zM267.77 456.4v-23.99H269.96V456.4zM269.96 456.4v-35.99H272.15V456.4zM272.15 456.4v-35.99H274.34V456.4zM274.34 456.4v-45.36H276.53V456.4zM276.53 456.4v-56.05H278.72V456.4zM278.72 456.4v-50.91H280.91V456.4zM280.91 456.4v-62.5H283.1V456.4zM283.1 456.4v-70.16H285.29V456.4zM285.29 456.4v-59.48H287.48V456.4zM287.48 456.4v-52.52H289.67V456.4zM289.67 456.4v-54.33H291.86V456.4zM291.86 456.4v-84.48H294.05V456.4zM294.05 456.4v-51.01H296.24V456.4zM296.24 456.4v-46.37H298.43V456.4zM298.43 456.4v-42.84H300.62V456.4zM300.62 456.4v-23.99H302.81V456.4zM302.81 456.4v-22.98H305V456.4zM305 456.4v-26.81H307.19V456.4zM307.19 456.4v-18.95H309.38V456.4zM309.38 456.4v-13.41H311.57V456.4zM311.57 456.4v-9.27H313.76V456.4zM313.76 456.4v-6.96H315.95V456.4zM315.95 456.4v-5.04H318.14V456.4zM318.14 456.4v-2.12H320.33V456.4z" fill="#800080"/>
<path d="M232.7 456.32 L233.7 456.3 L234.7 456.27 L235.7 456.24 L236.7 456.19 L237.7 456.14 L238.7 456.07 L239.7 455.99 L240.7 455.89 L241.7 455.77 L242.7 455.62 L243.7 455.44 L244.7 455.23 L245.7 454.98 L246.7 454.68 L247.7 454.33 L248.7 453.92 L249.7 453.45 L250.7 452.9 L251.7 452.27 L252.7 451.56 L253.7 450.74 L254.7 449.82 L255.7 448.79 L256.7 447.64 L257.7 446.36 L258.7 444.96 L259.7 443.42 L260.7 441.74 L261.7 439.93 L262.7 437.99 L263.7 435.92 L264.7 433.73 L265.7 431.42 L266.7 429.02 L267.7 426.53 L268.7 423.97 L269.7 421.37 L270.7 418.74 L271.7 416.11 L272.7 413.5 L273.7 410.96 L274.7 408.49 L275.7 406.14 L276.7 403.93 L277.7 401.89 L278.7 400.05 L279.7 398.42 L280.7 397.05 L281.7 395.93 L282.7 395.1 L283.7 394.56 L284.7 394.32 L285.7 394.38 L286.7 394.74 L287.7 395.4 L288.7 396.35 L289.7 397.57 L290.7 399.05 L291.7 400.76 L292.7 402.68 L293.7 404.79 L294.7 407.06 L295.7 409.47 L296.7 411.97 L297.7 414.54 L298.7 417.16 L299.7 419.79 L300.7 422.41 L301.7 425 L302.7 427.53 L303.7 429.99 L304.7 432.36 L305.7 434.62 L306.7 436.76 L307.7 438.78 L308.7 440.67 L309.7 442.43 L310.7 444.05 L311.7 445.53 L312.7 446.89 L313.7 448.11 L314.7 449.22 L315.7 450.2 L316.7 451.08 L317.7 451.85 L318.7 452.54 L319.7 453.13" fill="none" stroke="#ee82ee" stroke-width="1.7" stroke-linejoin="round"/>
<path d="M244.4 456.4v-2.1M244.4 367.7v2.1M271.4 456.4v-2.1M271.4 367.7v2.1M298.4 456.4v-2.1M298.4 367.7v2.1M325.4 456.4v-2.1M325.4 367.7v2.1M225.5 456.4h2.1M344.3 456.4h-2.1M225.5 430.85h2.1M344.3 430.85h-2.1M225.5 405.3h2.1M344.3 405.3h-2.1M225.5 379.75h2.1M344.3 379.75h-2.1" stroke="#111" stroke-width="0.55" fill="none"/>
<rect x="225.5" y="367.7" width="118.8" height="88.7" fill="none" stroke="#333" stroke-width="0.6"/>
<text x="244.4" y="464.35" class="t" text-anchor="middle">5.8</text>
<text x="271.4" y="464.35" class="t" text-anchor="middle">6.0</text>
<text x="298.4" y="464.35" class="t" text-anchor="middle">6.2</text>
<text x="325.4" y="464.35" class="t" text-anchor="middle">6.4</text>
<text x="223.1" y="458.8" class="t" text-anchor="end">0.0</text>
<text x="223.1" y="433.25" class="t" text-anchor="end">1.5</text>
<text x="223.1" y="407.7" class="t" text-anchor="end">3.0</text>
<text x="223.1" y="382.15" class="t" text-anchor="end">4.5</text>
<text x="284.9" y="474" class="l" text-anchor="middle">Sum current of 3 devices (µA)</text>
<text transform="translate(208.6 412.05) rotate(-90)" class="l" text-anchor="middle">Probability density</text>
<path d="M231.2 375.6h12.6" stroke="#ee82ee" stroke-width="1.8" stroke-linecap="square"/>
<text x="249.2" y="377.7" class="t" style="font-size:5.8px">Fitted</text>
<rect x="231.2" y="382.2" width="12.6" height="4.6" fill="#800080"/>
<text x="249.2" y="386.5" class="t" style="font-size:5.8px">Measured</text>
<text x="318" y="382.2" class="b" style="font-size:10px" text-anchor="middle">Devices=</text>
<text x="319.6" y="394.6" class="b" style="font-size:10px" text-anchor="middle">[2,5,8]</text>
<path d="M389.4 456.4v-3.44H393V456.4zM407 456.4v-1.01H414V456.4zM414 456.4v-5.47H417.4V456.4zM417.4 456.4v-7.5H420.6V456.4zM420.6 456.4v-25.73H424V456.4zM424 456.4v-16.61H427.4V456.4zM427.4 456.4v-32.82H430.8V456.4zM430.8 456.4v-53.08H434.2V456.4zM434.2 456.4v-66.24H437.6V456.4zM437.6 456.4v-72.73H441V456.4zM441 456.4v-84.48H444.4V456.4zM444.4 456.4v-40.92H447.8V456.4zM447.8 456.4v-61.18H451.2V456.4zM451.2 456.4v-47H454.6V456.4zM454.6 456.4v-43.96H458V456.4zM458 456.4v-39.91H461.4V456.4zM461.4 456.4v-29.78H464.8V456.4zM464.8 456.4v-6.48H468.2V456.4zM468.2 456.4v-10.53H471.6V456.4zM471.6 456.4v-3.44H475V456.4zM475 456.4v-1.42H478.4V456.4z" fill="#800080"/>
<path d="M383.4 456.39 L384.4 456.39 L385.4 456.39 L386.4 456.38 L387.4 456.38 L388.4 456.37 L389.4 456.36 L390.4 456.35 L391.4 456.34 L392.4 456.32 L393.4 456.29 L394.4 456.26 L395.4 456.22 L396.4 456.18 L397.4 456.12 L398.4 456.04 L399.4 455.95 L400.4 455.85 L401.4 455.71 L402.4 455.55 L403.4 455.36 L404.4 455.13 L405.4 454.86 L406.4 454.54 L407.4 454.17 L408.4 453.73 L409.4 453.23 L410.4 452.64 L411.4 451.97 L412.4 451.21 L413.4 450.34 L414.4 449.36 L415.4 448.27 L416.4 447.06 L417.4 445.71 L418.4 444.23 L419.4 442.62 L420.4 440.87 L421.4 438.99 L422.4 436.97 L423.4 434.83 L424.4 432.57 L425.4 430.2 L426.4 427.74 L427.4 425.2 L428.4 422.61 L429.4 419.98 L430.4 417.34 L431.4 414.72 L432.4 412.14 L433.4 409.64 L434.4 407.24 L435.4 404.97 L436.4 402.86 L437.4 400.94 L438.4 399.24 L439.4 397.77 L440.4 396.57 L441.4 395.64 L442.4 395 L443.4 394.67 L444.4 394.64 L445.4 394.91 L446.4 395.49 L447.4 396.36 L448.4 397.51 L449.4 398.92 L450.4 400.58 L451.4 402.46 L452.4 404.53 L453.4 406.77 L454.4 409.15 L455.4 411.63 L456.4 414.2 L457.4 416.82 L458.4 419.45 L459.4 422.08 L460.4 424.69 L461.4 427.24 L462.4 429.71 L463.4 432.1 L464.4 434.38 L465.4 436.55 L466.4 438.59 L467.4 440.51 L468.4 442.28 L469.4 443.92 L470.4 445.43 L471.4 446.8 L472.4 448.04 L473.4 449.15 L474.4 450.15 L475.4 451.04 L476.4 451.82 L477.4 452.51 L478.4 453.12 L479.4 453.64 L480.4 454.09 L481.4 454.47 L482.4 454.8 L483.4 455.08 L484.4 455.32 L485.4 455.52 L486.4 455.68 L487.4 455.82 L488.4 455.93 L489.4 456.03" fill="none" stroke="#ee82ee" stroke-width="1.7" stroke-linejoin="round"/>
<path d="M391.7 456.4v-2.1M391.7 367.7v2.1M415.9 456.4v-2.1M415.9 367.7v2.1M440.1 456.4v-2.1M440.1 367.7v2.1M464.3 456.4v-2.1M464.3 367.7v2.1M488.5 456.4v-2.1M488.5 367.7v2.1M383.2 456.4h2.1M501.4 456.4h-2.1M383.2 433.53h2.1M501.4 433.53h-2.1M383.2 410.66h2.1M501.4 410.66h-2.1M383.2 387.79h2.1M501.4 387.79h-2.1" stroke="#111" stroke-width="0.55" fill="none"/>
<rect x="383.2" y="367.7" width="118.2" height="88.7" fill="none" stroke="#333" stroke-width="0.6"/>
<text x="391.7" y="464.35" class="t" text-anchor="middle">6.0</text>
<text x="415.9" y="464.35" class="t" text-anchor="middle">6.3</text>
<text x="440.1" y="464.35" class="t" text-anchor="middle">6.6</text>
<text x="464.3" y="464.35" class="t" text-anchor="middle">6.9</text>
<text x="488.5" y="464.35" class="t" text-anchor="middle">7.2</text>
<text x="380.8" y="458.8" class="t" text-anchor="end">0.0</text>
<text x="380.8" y="435.93" class="t" text-anchor="end">0.8</text>
<text x="380.8" y="413.06" class="t" text-anchor="end">1.6</text>
<text x="380.8" y="390.19" class="t" text-anchor="end">2.4</text>
<text x="442.3" y="474" class="l" text-anchor="middle">Sum current of 3 devices (µA)</text>
<text transform="translate(366.3 412.05) rotate(-90)" class="l" text-anchor="middle">Probability density</text>
<path d="M450.4 375.6h12.6" stroke="#ee82ee" stroke-width="1.8" stroke-linecap="square"/>
<text x="468.4" y="377.7" class="t" style="font-size:5.8px">Fitted</text>
<rect x="450.4" y="382.2" width="12.6" height="4.6" fill="#800080"/>
<text x="468.4" y="386.5" class="t" style="font-size:5.8px">Measured</text>
<text x="408.3" y="382.2" class="b" style="font-size:10px" text-anchor="middle">Devices=</text>
<text x="409.9" y="394.6" class="b" style="font-size:10px" text-anchor="middle">[3,6,9]</text>
</svg>
</body></html>
